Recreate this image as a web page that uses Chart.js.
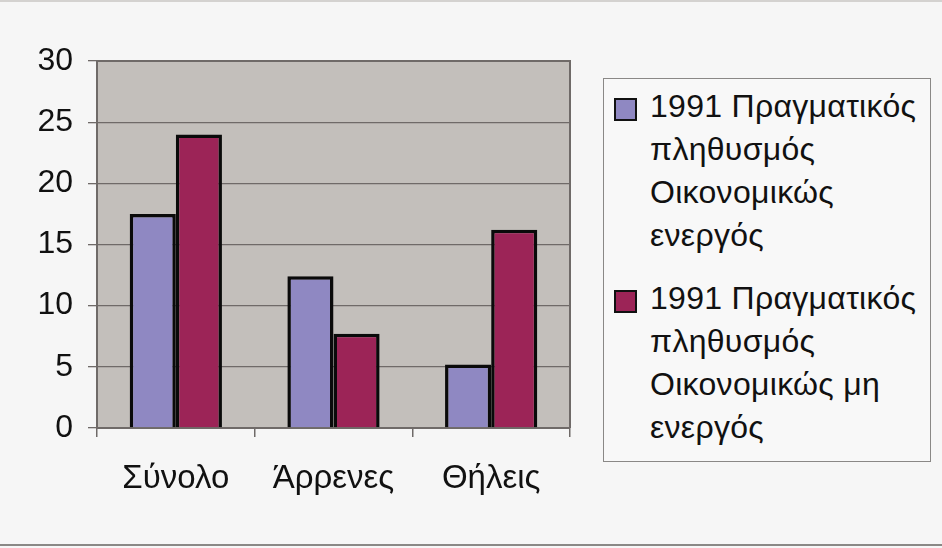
<!DOCTYPE html>
<html>
<head>
<meta charset="utf-8">
<script src="https://cdn.jsdelivr.net/npm/chart.js@4"></script>
<style>
  html, body { margin: 0; padding: 0; }
  body { width: 942px; height: 548px; background: #f6f6f6; position: relative; overflow: hidden;
         font-family: "Liberation Sans", Arial, sans-serif; }
  #topLine { position: absolute; left: 0; top: 0; width: 942px; height: 2px; background: #d4d2d0; }
  #bottomLine { position: absolute; left: 0; top: 544px; width: 942px; height: 2px; background: #8a8886; }
  #chartWrap { position: absolute; left: 0; top: 0; width: 590px; height: 548px; }
  #legend { position: absolute; left: 603px; top: 78px; width: 328px; height: 384px;
            border: 1px solid #8a8886; box-sizing: border-box; background: #f8f8f8; }
  .item { position: absolute; left: 10px; }
  .swatch { position: absolute; left: 0; top: 13px; width: 23px; height: 23px; border: 2.5px solid #111;
            box-sizing: border-box; }
  .text { position: absolute; left: 36px; top: 0; font-size: 32px; line-height: 43px; color: #111;
          white-space: nowrap; letter-spacing: 0.3px; }
</style>
</head>
<body>
<div id="topLine"></div>
<div id="chartWrap"><canvas id="chart" width="590" height="548"></canvas></div>
<div id="legend"></div>
<div id="bottomLine"></div>

<script>
document.addEventListener("DOMContentLoaded", function () {

  const categories = ["Σύνολο", "Άρρενες", "Θήλεις"];
  const activeValues = [17.5, 12.4, 5.2];
  const inactiveValues = [24.0, 7.7, 16.2];
  const seriesLabels = [
    ["1991 Πραγματικός", "πληθυσμός", "Οικονομικώς", "ενεργός"],
    ["1991 Πραγματικός", "πληθυσμός", "Οικονομικώς μη", "ενεργός"]
  ];
  const yTicks = [0, 5, 10, 15, 20, 25, 30];

  const seriesColors = ["#8f88c2", "#9c2457"];
  const axisColor = "#6f6a68";

  // plot background + right/top frame
  const plotFrame = {
    id: "plotFrame",
    beforeDraw(chart) {
      const { ctx, chartArea: a } = chart;
      ctx.save();
      ctx.fillStyle = "#c3bfbb";
      ctx.fillRect(a.left, a.top, a.right - a.left, a.bottom - a.top);
      ctx.restore();
    },
    afterDatasetsDraw(chart) {
      const { ctx, chartArea: a } = chart;
      ctx.save();
      ctx.strokeStyle = axisColor;
      ctx.lineWidth = 2;
      ctx.beginPath();
      ctx.moveTo(a.left, a.top);
      ctx.lineTo(a.right, a.top);
      ctx.lineTo(a.right, a.bottom);
      ctx.stroke();
      ctx.restore();
    }
  };

  const fontFamily = "'Liberation Sans', Arial, sans-serif";

  new Chart(document.getElementById("chart"), {
    type: "bar",
    data: {
      labels: categories,
      datasets: [
        { label: seriesLabels[0], data: activeValues, backgroundColor: seriesColors[0],
          borderColor: "#0a0a0a", borderWidth: 3.5 },
        { label: seriesLabels[1], data: inactiveValues, backgroundColor: seriesColors[1],
          borderColor: "#0a0a0a", borderWidth: 3.5 }
      ]
    },
    options: {
      responsive: false,
      animation: false,
      layout: { padding: { top: 61, right: 20, bottom: 40, left: 0 } },
      datasets: { bar: { categoryPercentage: 0.585, barPercentage: 1.0 } },
      plugins: { legend: { display: false }, tooltip: { enabled: false } },
      scales: {
        x: {
          grid: { drawOnChartArea: false, drawTicks: true, tickLength: 9, color: axisColor, lineWidth: 1.5 },
          border: { color: axisColor, width: 2 },
          ticks: { color: "#111", font: { family: fontFamily, size: 33 }, padding: 22 },
          afterFit(scale) { scale.height = 80; }
        },
        y: {
          min: 0, max: 30,
          afterBuildTicks(scale) { scale.ticks = yTicks.map(v => ({ value: v })); },
          grid: { color: axisColor, lineWidth: 1.3, tickLength: 9 },
          border: { color: axisColor, width: 2 },
          ticks: { color: "#111", font: { family: fontFamily, size: 32 }, padding: 15 },
          afterFit(scale) { scale.width = 97; }
        }
      }
    },
    plugins: [plotFrame]
  });

  // ---------------- LEGEND ----------------
  const legend = document.getElementById("legend");
  const itemTops = [6, 198];
  seriesLabels.forEach((lines, i) => {
    const item = document.createElement("div");
    item.className = "item";
    item.style.top = itemTops[i] + "px";
    item.innerHTML = `<div class="swatch" style="background:${seriesColors[i]}"></div>
      <div class="text">${lines.join("<br>")}</div>`;
    legend.appendChild(item);
  });

});
</script>
</body>
</html>
